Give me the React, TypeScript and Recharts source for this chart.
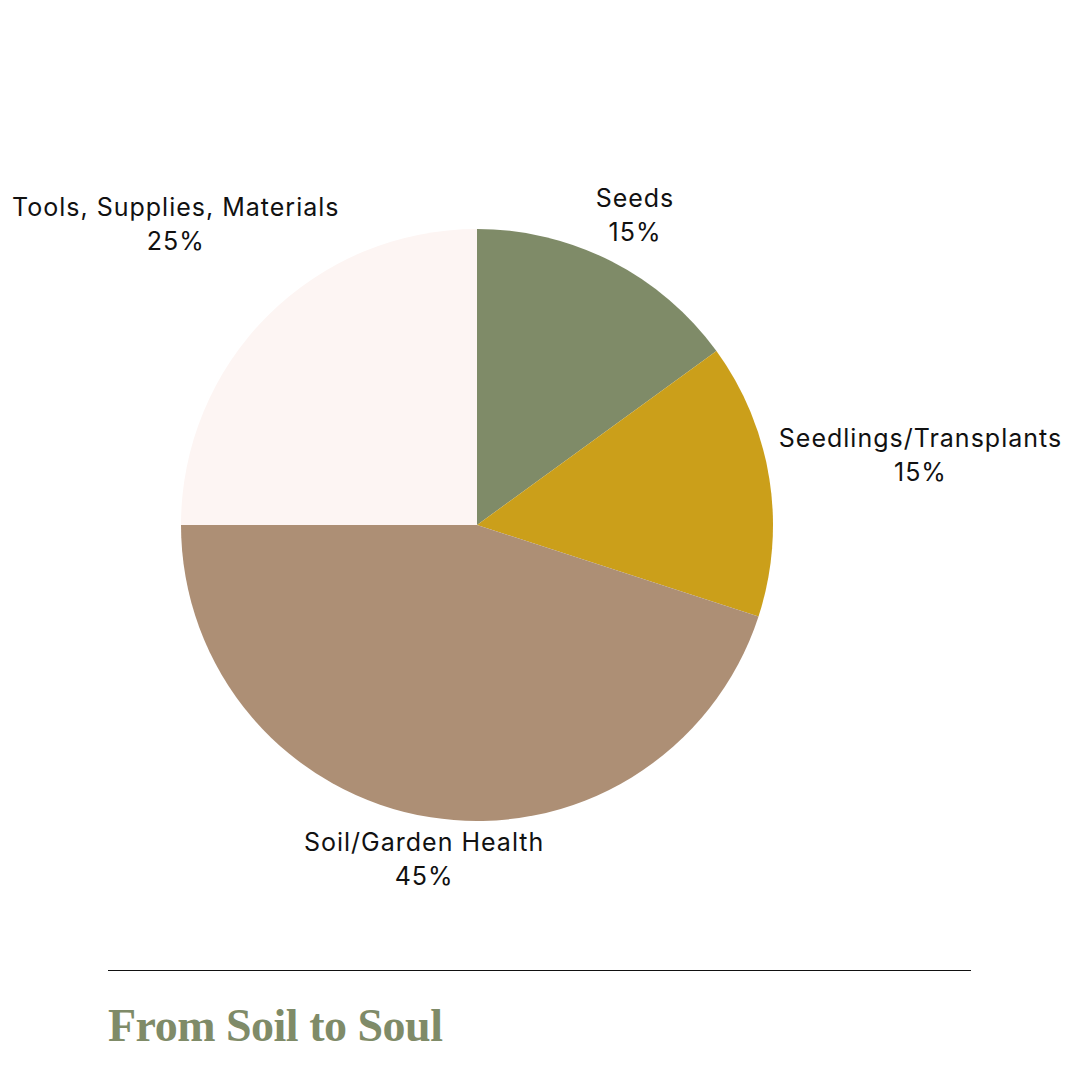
import { Cell, Pie, PieChart } from "recharts"

const categories = ["Seeds", "Seedlings/Transplants", "Soil/Garden Health", "Tools, Supplies, Materials"]
const shares = [15, 15, 45, 25]
const colors = ["#7f8b68", "#cb9f1a", "#ad8f75", "#fdf5f3"]

const data = categories.map((name, i) => ({ name, value: shares[i] }))

const FONT = "Inter, 'Open Sans', sans-serif"
const FONT_SIZE = 25
const SPACING = 1
const LINE_GAP = 34

let ctx: CanvasRenderingContext2D | null = null
function textWidth(s: string) {
  if (!ctx) ctx = document.createElement("canvas").getContext("2d")
  if (!ctx) return s.length * 13
  ctx.font = `${FONT_SIZE}px ${FONT}`
  return ctx.measureText(s).width + s.length * SPACING
}

// push the two-line label out along the mid angle until its box clears the pie
function renderLabel(props: any) {
  const { cx, cy, midAngle, outerRadius, name, value } = props
  const pct = `${value}%`
  const hw = Math.max(textWidth(name), textWidth(pct)) / 2
  const hh = (LINE_GAP + FONT_SIZE) / 2
  const rad = (midAngle * Math.PI) / 180
  const c = Math.cos(rad)
  const s = -Math.sin(rad)
  let x = cx
  let y = cy
  for (let r = outerRadius; r < outerRadius + 400; r += 1) {
    x = cx + r * c
    y = cy + r * s
    const nx = Math.max(x - hw, Math.min(cx, x + hw))
    const ny = Math.max(y - hh, Math.min(cy, y + hh))
    if (Math.hypot(nx - cx, ny - cy) >= outerRadius + 8) break
  }
  return (
    <text
      x={x}
      y={y - LINE_GAP / 2}
      textAnchor="middle"
      dominantBaseline="central"
      fill="#111"
      style={{ fontFamily: FONT, fontSize: FONT_SIZE, letterSpacing: SPACING }}
    >
      <tspan x={x} dy={0}>{name}</tspan>
      <tspan x={x} dy={LINE_GAP}>{pct}</tspan>
    </text>
  )
}

export default function App() {
  return (
    <div style={{ position: "absolute", left: 0, top: 0, width: 1080, height: 1080, background: "#fff" }}>
      <PieChart width={1080} height={1080} margin={{ top: 0, right: 0, bottom: 0, left: 0 }}>
        <Pie
          data={data}
          dataKey="value"
          nameKey="name"
          cx={477}
          cy={525}
          outerRadius={296}
          startAngle={90}
          endAngle={-270}
          stroke="none"
          labelLine={false}
          label={renderLabel}
          isAnimationActive={false}
        >
          {data.map((entry, i) => (
            <Cell key={entry.name} fill={colors[i]} />
          ))}
        </Pie>
      </PieChart>
      <div style={{ position: "absolute", left: 108, top: 970, width: 863, height: 1, background: "#111" }} />
      <div
        style={{
          position: "absolute",
          left: 108,
          top: 998,
          fontFamily: "'Liberation Serif', 'DejaVu Serif', serif",
          fontWeight: 700,
          fontSize: 46,
          lineHeight: "56px",
          color: "#7f8b68",
          letterSpacing: -0.5,
          whiteSpace: "nowrap",
        }}
      >
        From Soil to Soul
      </div>
    </div>
  )
}
